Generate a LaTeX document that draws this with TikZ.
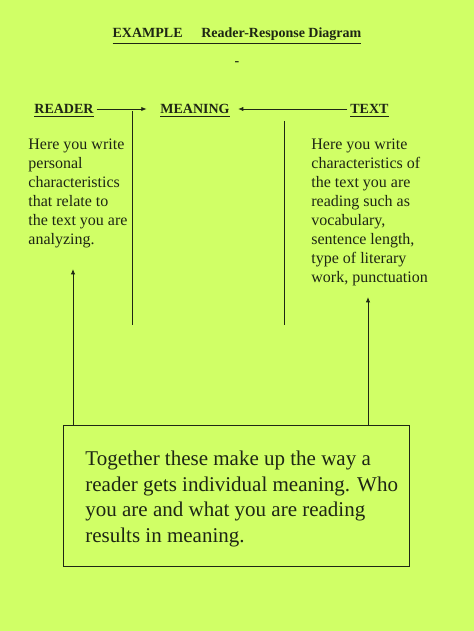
\documentclass[tikz,border=0pt]{standalone}
\usepackage{fontspec}
\setmainfont{Liberation Serif}
\usetikzlibrary{arrows.meta}
\definecolor{hintergrund}{RGB}{208,255,102}
\definecolor{strich}{RGB}{30,38,20}
\begin{document}
\begin{tikzpicture}[x=0.75pt, y=-0.75pt, line width=0.6pt, draw=strich, text=strich,
    kopf/.style={inner sep=0pt, text height=7.5pt, text depth=0pt, font=\fontsize{10.5pt}{12pt}\selectfont\bfseries},
    fliess/.style={inner sep=0pt, anchor=north west, align=left, font=\fontsize{12pt}{14.25pt}\selectfont},
    pfeil/.style={-{Latex[length=4pt,width=3.2pt]}}]
    % Hintergrund
    \fill [hintergrund] (0, 0) rectangle (474, 631);
    \useasboundingbox (0, 0) rectangle (474, 631);
    % Titel
    \node [anchor=base, inner sep=0pt, font=\fontsize{10.5pt}{12pt}\selectfont\bfseries] (titel) at (237, 38)
        {\underline{EXAMPLE\hspace{14pt}Reader-Response Diagram}};
    \node [anchor=base, inner sep=0pt, font=\fontsize{10.5pt}{12pt}\selectfont\bfseries] (strich) at (237, 66) {-};
    % Kopfzeile
    \node [kopf, anchor=west] (reader)  at ( 34, 109) {\underline{READER}};
    \node [kopf, anchor=west] (meaning) at (160, 109) {\underline{MEANING}};
    \node [kopf, anchor=west] (text)    at (350, 109) {\underline{TEXT}};
    \draw [pfeil, shorten <=2pt, shorten >=10pt] (reader) -- (meaning);
    \draw [pfeil, shorten <=2pt, shorten >=6pt] (text) -- (meaning);
    % Senkrechte Linien
    \coordinate (lo) at (132, 111);
    \coordinate (lu) at (132, 325);
    \coordinate (ro) at (284, 121);
    \coordinate (ru) at (284, 325);
    \draw (lo) -- (lu);
    \draw (ro) -- (ru);
    % Texte
    \node [fliess] (leser) at (28, 139) {Here you write\\personal\\characteristics\\that relate to\\the text you are\\analyzing.};
    \node [fliess] (werk) at (311, 139) {Here you write\\characteristics of\\the text you are\\reading such as\\vocabulary,\\sentence length,\\type of literary\\work, punctuation};
    % Kasten
    \node [draw, line width=0.75pt, minimum width=260pt, minimum height=106pt, inner sep=0pt] (kasten) at (236.5, 496) {};
    \node [fliess, font=\fontsize{15.75pt}{19.3pt}\selectfont] (satz) at (85, 450.5)
        {Together these make up the way a\\reader gets individual meaning. Who\\you are and what you are reading\\results in meaning.};
    % Pfeile nach oben
    \coordinate (lp) at ( 73, 269);
    \coordinate (rp) at (368, 297);
    \draw [pfeil] (kasten.north -| lp) -- (lp);
    \draw [pfeil] (kasten.north -| rp) -- (rp);
\end{tikzpicture}
\end{document}
